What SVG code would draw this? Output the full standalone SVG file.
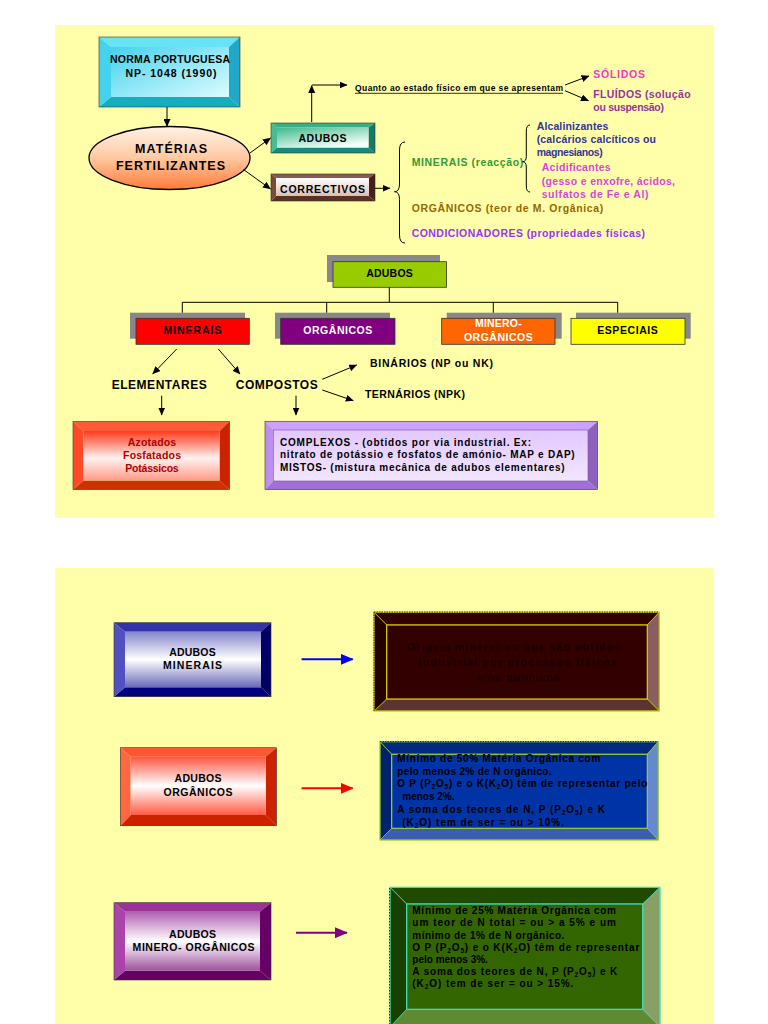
<svg xmlns="http://www.w3.org/2000/svg" width="768" height="1024" viewBox="0 0 768 1024">
<style>
text{font-family:"Liberation Sans",Arial,Helvetica,sans-serif;font-weight:bold;fill:#000}
.s10{font-size:10.5px}.s9{font-size:10px}.s11{font-size:12px}.s12{font-size:12.5px}.s8{font-size:8.5px}
.m{text-anchor:middle}
.ln{fill:none;stroke:#000;stroke-width:1}
.ar{fill:none;stroke:#000;stroke-width:1;marker-end:url(#ah)}
.edge{stroke:#333;stroke-width:0.6}
.shadow{fill:#888}
</style>
<defs>
<marker id="ah" markerWidth="8" markerHeight="7" refX="7.5" refY="3.5" orient="auto" markerUnits="userSpaceOnUse"><path d="M0,0 L8,3.5 L0,7 z" fill="#000"/></marker>
<marker id="ahB" markerWidth="13" markerHeight="11" refX="12" refY="5.5" orient="auto" markerUnits="userSpaceOnUse"><path d="M0,0 L13,5.5 L0,11 z" fill="#0000FF"/></marker>
<marker id="ahR" markerWidth="13" markerHeight="11" refX="12" refY="5.5" orient="auto" markerUnits="userSpaceOnUse"><path d="M0,0 L13,5.5 L0,11 z" fill="#FF0000"/></marker>
<marker id="ahP" markerWidth="13" markerHeight="11" refX="12" refY="5.5" orient="auto" markerUnits="userSpaceOnUse"><path d="M0,0 L13,5.5 L0,11 z" fill="#800080"/></marker>
<linearGradient id="gNorma" x1="0" y1="0" x2="1" y2="1"><stop offset="0" stop-color="#44D2EE"/><stop offset="1" stop-color="#DDFCFF"/></linearGradient>
<linearGradient id="gEll" x1="0" y1="0" x2="0" y2="1"><stop offset="0" stop-color="#FFF2E6"/><stop offset="0.5" stop-color="#FFC9A0"/><stop offset="1" stop-color="#FF7A38"/></linearGradient>
<linearGradient id="gAd" x1="0" y1="0" x2="0.6" y2="1"><stop offset="0" stop-color="#3DB88A"/><stop offset="1" stop-color="#F5FFFA"/></linearGradient>
<linearGradient id="gCo" x1="0" y1="0" x2="0" y2="1"><stop offset="0" stop-color="#FFFFFF"/><stop offset="1" stop-color="#D6BEBA"/></linearGradient>
<linearGradient id="gRed" x1="0" y1="0" x2="0" y2="1"><stop offset="0" stop-color="#FF3A1A"/><stop offset="0.55" stop-color="#FFF2F0"/><stop offset="1" stop-color="#FF9A88"/></linearGradient>
<linearGradient id="gLav" x1="0" y1="0" x2="0" y2="1"><stop offset="0" stop-color="#E2C8FF"/><stop offset="1" stop-color="#F2E6FF"/></linearGradient>
<linearGradient id="gBlu" x1="0" y1="0" x2="0" y2="1"><stop offset="0" stop-color="#8585CC"/><stop offset="0.5" stop-color="#FFFFFF"/><stop offset="1" stop-color="#6A6AB8"/></linearGradient>
<linearGradient id="gOrg" x1="0" y1="0" x2="0" y2="1"><stop offset="0" stop-color="#FF5540"/><stop offset="0.5" stop-color="#FFFFFF"/><stop offset="1" stop-color="#FF5A44"/></linearGradient>
<linearGradient id="gMO" x1="0" y1="0" x2="0" y2="1"><stop offset="0" stop-color="#B060B0"/><stop offset="0.5" stop-color="#FFFFFF"/><stop offset="1" stop-color="#A050A0"/></linearGradient>
</defs>

<rect width="768" height="1024" fill="#FFFFFF"/>
<rect x="55" y="25" width="659" height="493" fill="#FFFFAA"/>
<rect x="55" y="568" width="659" height="456" fill="#FFFFAA"/>

<!-- NORMA -->
<g id="norma">
<polygon points="99,37 240,37 229,47 111,47" fill="#66E4F4"/>
<polygon points="240,37 240,107 229,97 229,47" fill="#20A8C8"/>
<polygon points="99,107 240,107 229,97 111,97" fill="#15AEC0"/>
<polygon points="99,37 111,47 111,97 99,107" fill="#44D2EE"/>
<rect x="111" y="47" width="118" height="50" fill="url(#gNorma)"/>
<rect x="99" y="37" width="141" height="70" fill="none" class="edge"/>
<text class="s10 m" x="170" y="63" textLength="120">NORMA PORTUGUESA</text>
<text class="s10 m" x="171" y="76.5" textLength="91">NP- 1048 (1990)</text>
</g>

<g id="materias">
<ellipse cx="169.5" cy="158" rx="80.5" ry="31.5" fill="url(#gEll)" stroke="#000" stroke-width="1.3"/>
<text class="s12 m" x="171" y="153" textLength="72">MATÉRIAS</text>
<text class="s12 m" x="170.5" y="169.5" textLength="109">FERTILIZANTES</text>
</g>

<g id="adubos-top">
<polygon points="271,123 375,123 368.5,127.5 277,127.5" fill="#3AAE8A"/>
<polygon points="375,123 375,153 368.5,147.5 368.5,127.5" fill="#137A68"/>
<polygon points="271,153 375,153 368.5,147.5 277,147.5" fill="#168C78"/>
<polygon points="271,123 277,127.5 277,147.5 271,153" fill="#44BC98"/>
<rect x="277" y="127.5" width="91.5" height="20" fill="url(#gAd)"/>
<rect x="271" y="123" width="104" height="30" fill="none" class="edge"/>
<text class="s10 m" x="322.5" y="141.5" textLength="48">ADUBOS</text>
</g>

<g id="correctivos">
<polygon points="271,174 375,174 369,178 276,178" fill="#8B5A4A"/>
<polygon points="375,174 375,201 369,196 369,178" fill="#4A2015"/>
<polygon points="271,201 375,201 369,196 276,196" fill="#5C3020"/>
<polygon points="271,174 276,178 276,196 271,201" fill="#7A4A3A"/>
<rect x="276" y="178" width="93" height="18" fill="url(#gCo)"/>
<rect x="271" y="174" width="104" height="27" fill="none" class="edge"/>
<text class="s10 m" x="322.5" y="193" textLength="85">CORRECTIVOS</text>
</g>

<g id="quanto">
<text class="s8" x="355" y="91" textLength="208">Quanto ao estado físico em que se apresentam</text>
<line x1="355" y1="93.3" x2="563" y2="93.3" stroke="#000" stroke-width="0.8"/>
</g>
<g id="solidos"><text class="s10" x="593.3" y="78" textLength="51.7" style="fill:#FF33CC">SÓLIDOS</text></g>
<g id="fluidos">
<text class="s10" x="593.3" y="98" textLength="97.3" style="fill:#993399">FLUÍDOS (solução</text>
<text class="s10" x="593.3" y="110.5" textLength="70.7" style="fill:#993399">ou suspensão)</text>
</g>
<g id="minerais-reac"><text class="s10" x="411.7" y="165.5" textLength="111.6" style="fill:#339933">MINERAIS (reacção)</text></g>
<g id="alcalinizantes">
<text class="s10" x="536.7" y="129.5" textLength="71.6" style="fill:#333399">Alcalinizantes</text>
<text class="s10" x="536.7" y="143" textLength="119.3" style="fill:#333399">(calcários calcíticos ou</text>
<text class="s10" x="536.7" y="156" textLength="66" style="fill:#333399">magnesianos)</text>
</g>
<g id="acidificantes">
<text class="s10" x="541.7" y="171" textLength="69" style="fill:#DD44DD">Acidificantes</text>
<text class="s10" x="541.7" y="184.5" textLength="133.3" style="fill:#DD44DD">(gesso e enxofre, ácidos,</text>
<text class="s10" x="541.7" y="197.5" textLength="106.7" style="fill:#DD44DD">sulfatos de Fe e Al)</text>
</g>
<g id="organicos-teor"><text class="s10" x="411.7" y="212" textLength="191.6" style="fill:#996600">ORGÂNICOS (teor de M. Orgânica)</text></g>
<g id="condicionadores"><text class="s10" x="411.7" y="237" textLength="233.3" style="fill:#9933FF">CONDICIONADORES (propriedades físicas)</text></g>

<!-- middle tree -->
<g id="adubos-green">
<rect x="327" y="255" width="113" height="27" class="shadow"/>
<rect x="333" y="261.7" width="113.5" height="25.6" fill="#99CC00" stroke="#333" stroke-width="0.8"/>
<text class="s10 m" x="389.5" y="277" textLength="46.7">ADUBOS</text>
</g>
<g id="minerais">
<rect x="130" y="312.7" width="115" height="26" class="shadow"/>
<rect x="136" y="318.3" width="113.3" height="26" fill="#FF0000" stroke="#333" stroke-width="0.8"/>
<text class="s10 m" x="192.5" y="333.5" textLength="58">MINERAIS</text>
</g>
<g id="organicos">
<rect x="275" y="312.7" width="115" height="26" class="shadow"/>
<rect x="280.7" y="318.3" width="114.3" height="26" fill="#800080" stroke="#333" stroke-width="0.8"/>
<text class="s10 m" x="337.8" y="333.5" textLength="69" style="fill:#FFFFFF">ORGÂNICOS</text>
</g>
<g id="minero-organicos">
<rect x="446.7" y="312.7" width="115" height="26" class="shadow"/>
<rect x="441.7" y="318.3" width="113.3" height="26" fill="#FF6600" stroke="#333" stroke-width="0.8"/>
<text class="s10 m" x="498.3" y="327" textLength="46.7" style="fill:#FFFFFF">MINERO-</text>
<text class="s10 m" x="498.3" y="340.5" textLength="68.7" style="fill:#FFFFFF">ORGÂNICOS</text>
</g>
<g id="especiais">
<rect x="576" y="312.7" width="114.7" height="26" class="shadow"/>
<rect x="571" y="318.3" width="114" height="26" fill="#FFFF00" stroke="#333" stroke-width="0.8"/>
<text class="s10 m" x="627.5" y="333.5" textLength="60.7">ESPECIAIS</text>
</g>
<g id="elementares"><text class="s11" x="111.7" y="389" textLength="95">ELEMENTARES</text></g>
<g id="compostos"><text class="s11" x="235.7" y="389" textLength="82">COMPOSTOS</text></g>
<g id="binarios"><text class="s10" x="370" y="367" textLength="123">BINÁRIOS (NP ou NK)</text></g>
<g id="ternarios"><text class="s10" x="365" y="398" textLength="100">TERNÁRIOS (NPK)</text></g>

<g id="azotados">
<polygon points="73,421.5 229.5,421.5 219.5,431 83.5,431" fill="#FF5A3A"/>
<polygon points="229.5,421.5 229.5,489.5 219.5,480.5 219.5,431" fill="#CC2200"/>
<polygon points="73,489.5 229.5,489.5 219.5,480.5 83.5,480.5" fill="#CC3300"/>
<polygon points="73,421.5 83.5,431 83.5,480.5 73,489.5" fill="#FF4A2A"/>
<rect x="83.5" y="431" width="136" height="49.5" fill="url(#gRed)"/>
<rect x="73" y="421.5" width="156.5" height="68" fill="none" class="edge"/>
<text class="s10 m" x="152" y="445.5" textLength="48.3" style="fill:#B00000">Azotados</text>
<text class="s10 m" x="152" y="459" textLength="58" style="fill:#B00000">Fosfatados</text>
<text class="s10 m" x="152" y="472" textLength="53.3" style="fill:#B00000">Potássicos</text>
</g>
<g id="complexos">
<polygon points="265,421.5 597.5,421.5 588,430 273.5,430" fill="#CCA0FF"/>
<polygon points="597.5,421.5 597.5,489.5 588,481 588,430" fill="#9060C0"/>
<polygon points="265,489.5 597.5,489.5 588,481 273.5,481" fill="#A070D8"/>
<polygon points="265,421.5 273.5,430 273.5,481 265,489.5" fill="#BB90F0"/>
<rect x="273.5" y="430" width="314.5" height="51" fill="url(#gLav)" stroke="#7A50A8" stroke-width="0.6"/>
<rect x="265" y="421.5" width="332.5" height="68" fill="none" class="edge"/>
<text class="s9" x="280" y="445.5" textLength="251">COMPLEXOS - (obtidos por via industrial. Ex:</text>
<text class="s9" x="280" y="458" textLength="294.7">nitrato de potássio e fosfatos de amónio- MAP e DAP)</text>
<text class="s9" x="280" y="470.5" textLength="284.7">MISTOS- (mistura mecânica de adubos elementares)</text>
</g>

<!-- lower panel -->
<g id="adubos-minerais">
<polygon points="114,622.7 271,622.7 261,631.7 125,631.7" fill="#3333AA"/>
<polygon points="271,622.7 271,696.7 261,687.3 261,631.7" fill="#000066"/>
<polygon points="114,696.7 271,696.7 261,687.3 125,687.3" fill="#000080"/>
<polygon points="114,622.7 125,631.7 125,687.3 114,696.7" fill="#5050C0"/>
<rect x="125" y="631.7" width="136" height="55.6" fill="url(#gBlu)"/>
<rect x="114" y="622.7" width="157" height="74" fill="none" class="edge"/>
<text class="s10 m" x="192.5" y="656" textLength="46.3">ADUBOS</text>
<text class="s10 m" x="192.5" y="669" textLength="59">MINERAIS</text>
</g>
<g id="origem">
<polygon points="374,612.3 659.3,612.3 647.3,625 386.7,625" fill="#330000" stroke="#CCCC00" stroke-width="0.7"/>
<polygon points="659.3,612.3 659.3,711 647.3,699 647.3,625" fill="#8B5E5E" stroke="#CCCC00" stroke-width="0.7"/>
<polygon points="374,711 659.3,711 647.3,699 386.7,699" fill="#5C3333" stroke="#CCCC00" stroke-width="0.7"/>
<polygon points="374,612.3 386.7,625 386.7,699 374,711" fill="#220000" stroke="#CCCC00" stroke-width="0.7"/>
<rect x="386.7" y="625" width="260.6" height="74" fill="#330000" stroke="#DDCC00" stroke-width="1.2"/>
<rect x="374" y="612.3" width="285.3" height="98.7" fill="none" stroke="#CCCC00" stroke-width="1"/>
<path d="M374,612 H659 M374,612 V711" fill="none" stroke="#333" stroke-width="1" stroke-dasharray="1.5 1"/>
<text class="s10 m" x="513.5" y="650.5" textLength="213" style="fill:#1A0000">Origem mineral ou que são obtidos</text>
<text class="s10 m" x="517.5" y="665.5" textLength="198" style="fill:#1A0000">industrial por processos físicos</text>
<text class="s10 m" x="518" y="680.5" textLength="83" style="fill:#1A0000">e/ou químicos</text>
</g>

<g id="adubos-organicos">
<polygon points="120.3,747.7 276.5,747.7 265.7,756.7 130.7,756.7" fill="#FF5533"/>
<polygon points="276.5,747.7 276.5,825.7 265.7,815 265.7,756.7" fill="#CC2200"/>
<polygon points="120.3,825.7 276.5,825.7 265.7,815 130.7,815" fill="#CC2200"/>
<polygon points="120.3,747.7 130.7,756.7 130.7,815 120.3,825.7" fill="#FF6644"/>
<rect x="130.7" y="756.7" width="135" height="58.3" fill="url(#gOrg)"/>
<rect x="120.3" y="747.7" width="156.2" height="78" fill="none" class="edge"/>
<text class="s10 m" x="198" y="782" textLength="47">ADUBOS</text>
<text class="s10 m" x="198" y="795.5" textLength="68.8">ORGÂNICOS</text>
</g>
<g id="minimo50">
<polygon points="380,741.7 658.3,741.7 647.3,754.3 391.7,754.3" fill="#002A80" stroke="#99CC33" stroke-width="0.7"/>
<polygon points="658.3,741.7 658.3,840 647.3,828.3 647.3,754.3" fill="#6688CC" stroke="#99CC33" stroke-width="0.7"/>
<polygon points="380,840 658.3,840 647.3,828.3 391.7,828.3" fill="#3A5FB0" stroke="#99CC33" stroke-width="0.7"/>
<polygon points="380,741.7 391.7,754.3 391.7,828.3 380,840" fill="#00226B" stroke="#99CC33" stroke-width="0.7"/>
<rect x="391.7" y="754.3" width="255.6" height="74" fill="#0033A6" stroke="#99CC33" stroke-width="1.2"/>
<rect x="380" y="741.7" width="278.3" height="98.3" fill="none" stroke="#99CC33" stroke-width="1"/>
<path d="M380,741.5 H658" fill="none" stroke="#333" stroke-width="1" stroke-dasharray="1.5 1"/>
<text class="s9" x="397.3" y="762" textLength="203">Mínimo de 50% Matéria Orgânica com</text>
<text class="s9" x="397.3" y="774.5" textLength="154.3">pelo menos 2% de N orgânico.</text>
<text class="s9" x="397.3" y="787" textLength="250">O P (P<tspan font-size="6.5" dy="2">2</tspan><tspan dy="-2">O</tspan><tspan font-size="6.5" dy="2">5</tspan><tspan dy="-2">) e o K(K</tspan><tspan font-size="6.5" dy="2">2</tspan><tspan dy="-2">O) têm de representar pelo</tspan></text>
<text class="s9" x="402.3" y="799.5">menos 2%.</text>
<text class="s9" x="397.3" y="812.5" textLength="207.7">A soma dos teores de N, P (P<tspan font-size="6.5" dy="2">2</tspan><tspan dy="-2">O</tspan><tspan font-size="6.5" dy="2">5</tspan><tspan dy="-2">) e K</tspan></text>
<text class="s9" x="402.3" y="825.5" textLength="161.7">(K<tspan font-size="6.5" dy="2">2</tspan><tspan dy="-2">O) tem de ser = ou &gt; 10%.</tspan></text>
</g>

<g id="adubos-minero-organicos">
<polygon points="114,902.7 271,902.7 260,911.7 125,911.7" fill="#993399"/>
<polygon points="271,902.7 271,980 260,970.7 260,911.7" fill="#660066"/>
<polygon points="114,980 271,980 260,970.7 125,970.7" fill="#660066"/>
<polygon points="114,902.7 125,911.7 125,970.7 114,980" fill="#AA44AA"/>
<rect x="125" y="911.7" width="135" height="59" fill="url(#gMO)"/>
<rect x="114" y="902.7" width="157" height="77.3" fill="none" class="edge"/>
<text class="s10 m" x="192.5" y="938" textLength="47">ADUBOS</text>
<text class="s10 m" x="193.6" y="950.5" textLength="122">MINERO- ORGÂNICOS</text>
</g>
<g id="minimo25">
<polygon points="390,887.3 660,887.3 642.7,904 406.7,904" fill="#1F4A00" stroke="#40E0C0" stroke-width="0.7"/>
<polygon points="660,887.3 660,1027 642.7,1009.3 642.7,904" fill="#88A066" stroke="#40E0C0" stroke-width="0.7"/>
<polygon points="390,1027 660,1027 642.7,1009.3 406.7,1009.3" fill="#5E8A33" stroke="#40E0C0" stroke-width="0.7"/>
<polygon points="390,887.3 406.7,904 406.7,1009.3 390,1027" fill="#1A4000" stroke="#40E0C0" stroke-width="0.7"/>
<rect x="406.7" y="904" width="236" height="105.3" fill="#336600" stroke="#40E0C0" stroke-width="1.2"/>
<rect x="390" y="887.3" width="270" height="140" fill="none" stroke="#40E0C0" stroke-width="1"/>
<path d="M389.5,888 V1024" fill="none" stroke="#333" stroke-width="1" stroke-dasharray="1.5 1.5"/>
<text class="s9" x="412.3" y="914.2" textLength="203.7">Mínimo de 25% Matéria Orgânica com</text>
<text class="s9" x="412.3" y="926.4" textLength="203.7">um teor de N total = ou &gt; a 5% e um</text>
<text class="s9" x="412.3" y="938.6" textLength="152">mínimo de 1% de N orgânico.</text>
<text class="s9" x="412.3" y="950.8" textLength="227">O P (P<tspan font-size="6.5" dy="2">2</tspan><tspan dy="-2">O</tspan><tspan font-size="6.5" dy="2">5</tspan><tspan dy="-2">) e o K(K</tspan><tspan font-size="6.5" dy="2">2</tspan><tspan dy="-2">O) têm de representar</tspan></text>
<text class="s9" x="412.3" y="963">pelo menos 3%.</text>
<text class="s9" x="412.3" y="975.2" textLength="205">A soma dos teores de N, P (P<tspan font-size="6.5" dy="2">2</tspan><tspan dy="-2">O</tspan><tspan font-size="6.5" dy="2">5</tspan><tspan dy="-2">) e K</tspan></text>
<text class="s9" x="412.3" y="987.4" textLength="161">(K<tspan font-size="6.5" dy="2">2</tspan><tspan dy="-2">O) tem de ser = ou &gt; 15%.</tspan></text>
</g>

<g id="connectors">
<line class="ar" x1="167" y1="107" x2="167" y2="126.5"/>
<line class="ar" x1="250" y1="153" x2="270.5" y2="138"/>
<line class="ar" x1="243.5" y1="169.5" x2="270.5" y2="189"/>
<line class="ar" x1="311.7" y1="122" x2="311.7" y2="85.5"/>
<line class="ar" x1="312" y1="85" x2="347" y2="85"/>
<line class="ar" x1="565" y1="85" x2="589" y2="76"/>
<line class="ar" x1="565" y1="90.7" x2="588.5" y2="100.7"/>
<line class="ar" x1="375" y1="188.3" x2="390" y2="188.3"/>
<path class="ln" d="M405,142 Q399.5,142 399.5,150 L399.5,184 Q399.5,191.7 394.5,191.7 Q399.5,191.7 399.5,199.5 L399.5,235 Q399.5,243 405,243"/>
<path class="ln" d="M530,125 Q526.3,125 526.3,131 L526.3,156.5 Q526.3,161.7 522.5,161.7 Q526.3,161.7 526.3,167 L526.3,186 Q526.3,192 530,192"/>
<path class="ln" d="M389.3,287.3 V302.3 M182.3,302.3 H617.7 M182.3,302.3 V312.7 M326.7,302.3 V312.7 M493.3,302.3 V312.7 M617.7,302.3 V312.7"/>
<line class="ar" x1="176.7" y1="349" x2="152.7" y2="374"/>
<line class="ar" x1="218.3" y1="349" x2="240" y2="374"/>
<line class="ar" x1="322.3" y1="379.3" x2="356.7" y2="365"/>
<line class="ar" x1="322.3" y1="390" x2="353.3" y2="400.7"/>
<line class="ar" x1="161.7" y1="395.7" x2="161.7" y2="415"/>
<line class="ar" x1="296" y1="395.7" x2="296" y2="415"/>
<line x1="301.6" y1="659.3" x2="352.7" y2="659.3" stroke="#0000FF" stroke-width="2" marker-end="url(#ahB)"/>
<line x1="301.6" y1="788.3" x2="352.7" y2="788.3" stroke="#FF0000" stroke-width="2" marker-end="url(#ahR)"/>
<line x1="296" y1="932.7" x2="347" y2="932.7" stroke="#800080" stroke-width="2" marker-end="url(#ahP)"/>
</g>
</svg>
